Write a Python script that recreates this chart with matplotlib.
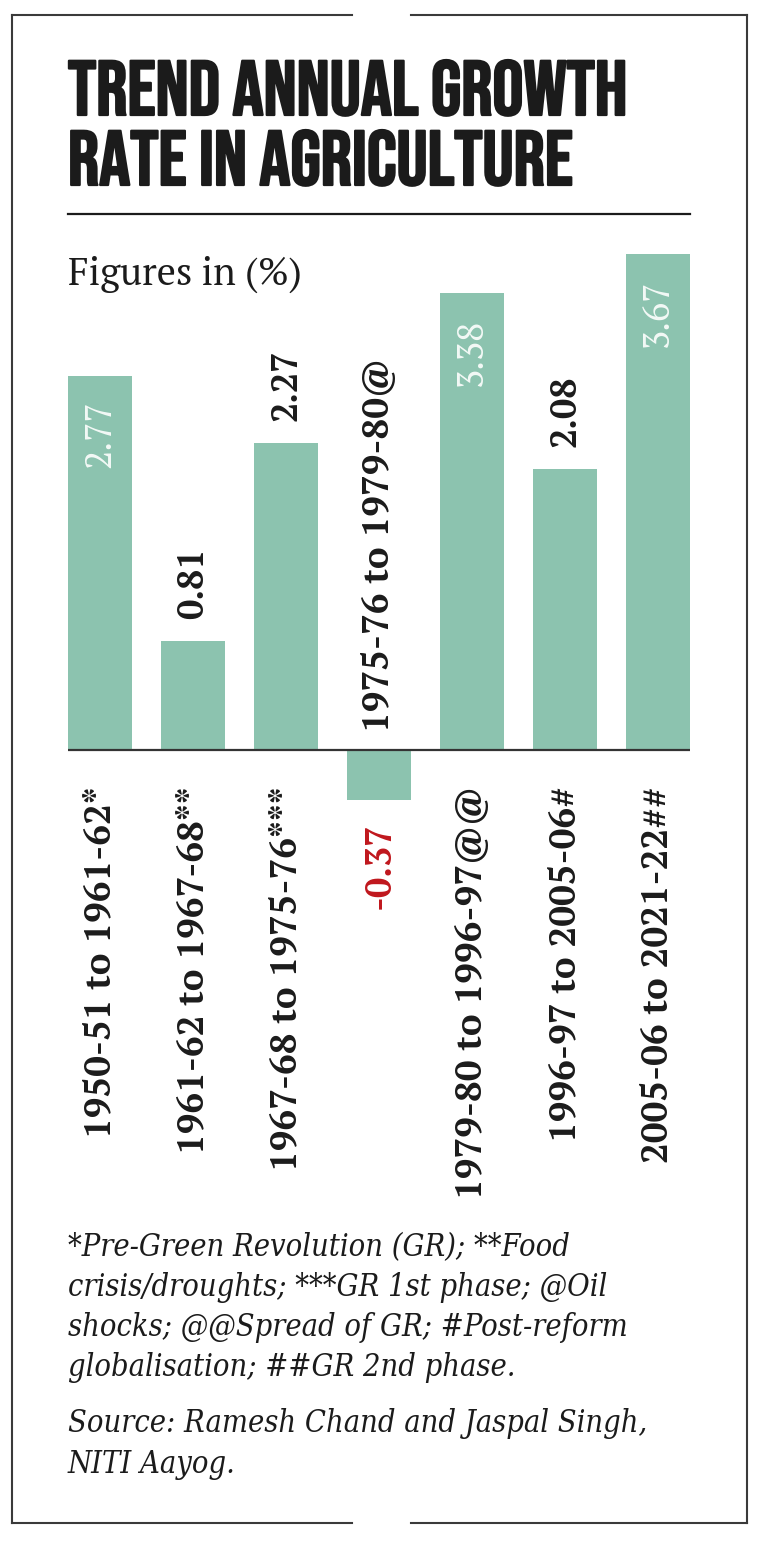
"""
Trend annual growth rate in agriculture, India, by policy phase.
Tall single-column newspaper graphic with rotated bar labels.
"""
import matplotlib
matplotlib.use("Agg")
import matplotlib.pyplot as plt
import matplotlib.patheffects as pe
from matplotlib.lines import Line2D

OUTPUT = "out.png"

W, H = 759, 1541  # canvas in pixels (dpi 100)

TITLE_LINES = ["TREND ANNUAL GROWTH", "RATE IN AGRICULTURE"]
SUBTITLE = "Figures in (%)"

PERIODS = [
    "1950-51 to 1961-62*",
    "1961-62 to 1967-68**",
    "1967-68 to 1975-76***",
    "1975-76 to 1979-80@",
    "1979-80 to 1996-97@@",
    "1996-97 to 2005-06#",
    "2005-06 to 2021-22##",
]
GROWTH = [2.77, 0.81, 2.27, -0.37, 3.38, 2.08, 3.67]

NOTE_LINES = [
    "*Pre-Green Revolution (GR); **Food",
    "crisis/droughts; ***GR 1st phase; @Oil",
    "shocks; @@Spread of GR; #Post-reform",
    "globalisation; ##GR 2nd phase.",
]
SOURCE_LINES = [
    "Source: Ramesh Chand and Jaspal Singh,",
    "NITI Aayog.",
]

C_BAR = "#8CC3AF"
C_TEXT = "#1b1b1b"
C_NEG = "#C0171D"
C_INSIDE = "#F3F9F6"
C_FRAME = "#3a3a3a"

TITLE_FONT = ["Bebas Neue", "Barlow Condensed", "DejaVu Sans"]
SERIF = ["PT Serif", "Liberation Serif", "DejaVu Serif"]
NOTE_FONT = ["DejaVu Serif", "Liberation Serif"]


def fx(px):
    return px / W


def fy(py):
    return 1 - py / H


def fit(fig, t, target, along="width"):
    """Rescale a text's font size so its extent matches target pixels."""
    r = fig.canvas.get_renderer()
    bb = t.get_window_extent(r)
    cur = bb.width if along == "width" else bb.height
    t.set_fontsize(t.get_fontsize() * target / cur)
    return t.get_fontsize()


def main():
    fig = plt.figure(figsize=(W / 100, H / 100), dpi=100)

    # frame with a notch in top and bottom edges
    segs = [
        ((12, 352), (15, 15)), ((411, 747), (15, 15)),
        ((12, 352), (1523, 1523)), ((411, 747), (1523, 1523)),
        ((12, 12), (15, 1523)), ((747, 747), (15, 1523)),
    ]
    for xs, ys in segs:
        fig.add_artist(Line2D([fx(x) for x in xs], [fy(y) for y in ys],
                              color=C_FRAME, lw=1.5, solid_capstyle="projecting"))

    # title (stroke thickens the single-weight display face)
    heavy = [pe.withStroke(linewidth=1.6, foreground=C_TEXT)]
    t1 = fig.text(fx(68), fy(115), TITLE_LINES[0], family=TITLE_FONT,
                  weight="bold", fontsize=40, color=C_TEXT, va="baseline",
                  path_effects=heavy)
    size = fit(fig, t1, 558)
    fig.text(fx(68), fy(185), TITLE_LINES[1], family=TITLE_FONT,
             weight="bold", fontsize=size, color=C_TEXT, va="baseline",
             path_effects=heavy)

    fig.add_artist(Line2D([fx(68), fx(690)], [fy(214), fy(214)],
                          color=C_TEXT, lw=1.6))

    sub = fig.text(fx(68), fy(285), SUBTITLE, family=SERIF, fontsize=26,
                   color=C_TEXT, va="baseline")
    fit(fig, sub, 234)

    # bar chart: baseline at y=750 px, 135.1 px per percentage point
    ppu = 135.1
    top_px, bot_px, base_px = 200, 1200, 750
    ax = fig.add_axes([fx(68), fy(bot_px), (690 - 68) / W, (bot_px - top_px) / H])
    ax.set_xlim(-0.345, len(GROWTH) - 1 + 0.345)
    ax.set_ylim(-(bot_px - base_px) / ppu, (base_px - top_px) / ppu)
    ax.axis("off")

    x = list(range(len(GROWTH)))
    ax.bar(x, GROWTH, width=0.69, color=C_BAR, zorder=2)
    ax.axhline(0, color="#333333", lw=1.6, zorder=3)

    # value labels
    val_texts = []
    for i, v in zip(x, GROWTH):
        if v > 2.5:
            t = ax.annotate(f"{v:.2f}", (i, v), xytext=(0, -25),
                            textcoords="offset pixels", rotation=90,
                            ha="center", va="top", family=SERIF,
                            fontsize=22, color=C_INSIDE, zorder=4)
        elif v >= 0:
            t = ax.annotate(f"{v:.2f}", (i, v), xytext=(0, 22),
                            textcoords="offset pixels", rotation=90,
                            ha="center", va="bottom", family=SERIF,
                            weight="bold", fontsize=22, color=C_TEXT)
        else:
            t = ax.annotate(f"{v:.2f}", (i, v), xytext=(0, -23),
                            textcoords="offset pixels", rotation=90,
                            ha="center", va="top", family=SERIF,
                            weight="bold", fontsize=22, color=C_NEG)
        val_texts.append(t)
    vsize = fit(fig, val_texts[2], 71, along="height")
    for t in val_texts:
        t.set_fontsize(vsize)

    # period labels
    cat_texts = []
    for i, v, lab in zip(x, GROWTH, PERIODS):
        if v >= 0:
            t = ax.annotate(lab, (i, 0), xytext=(0, -36),
                            textcoords="offset pixels", rotation=90,
                            ha="center", va="top", family=SERIF,
                            weight="bold", fontsize=22, color=C_TEXT)
        else:
            t = ax.annotate(lab, (i, 0), xytext=(0, 18),
                            textcoords="offset pixels", rotation=90,
                            ha="center", va="bottom", family=SERIF,
                            weight="bold", fontsize=22, color=C_TEXT)
        cat_texts.append(t)
    csize = fit(fig, cat_texts[0], 350, along="height")
    for t in cat_texts:
        t.set_fontsize(csize)

    # footnotes
    notes = []
    for k, line in enumerate(NOTE_LINES):
        notes.append(fig.text(fx(68), fy(1256 + 40 * k), line, family=NOTE_FONT,
                              style="italic", stretch="condensed", fontsize=20,
                              color=C_TEXT, va="baseline"))
    for k, line in enumerate(SOURCE_LINES):
        notes.append(fig.text(fx(68), fy(1432 + 41 * k), line, family=NOTE_FONT,
                              style="italic", stretch="condensed", fontsize=20,
                              color=C_TEXT, va="baseline"))
    nsize = fit(fig, notes[2], 560)
    for t in notes:
        t.set_fontsize(nsize)

    fig.savefig(OUTPUT, dpi=100)


if __name__ == "__main__":
    main()
